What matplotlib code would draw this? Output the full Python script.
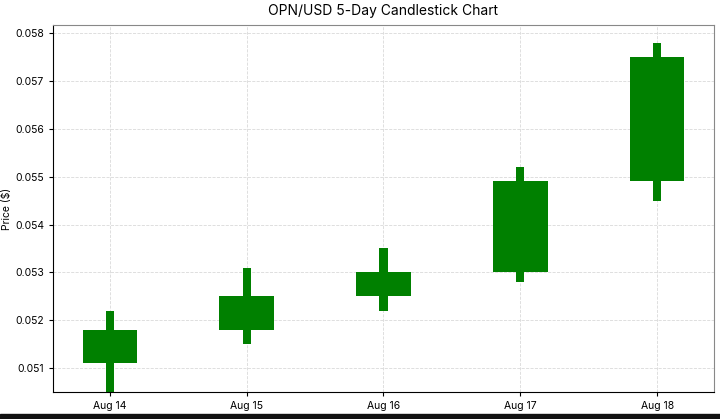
import matplotlib
matplotlib.use("Agg")
import matplotlib.pyplot as plt
from matplotlib.patches import Rectangle

plt.rcParams['font.family'] = ['Inter', 'DejaVu Sans']

dates = ["Aug 14", "Aug 15", "Aug 16", "Aug 17", "Aug 18"]
opens = [0.0511, 0.0518, 0.0525, 0.0530, 0.0549]
closes = [0.0518, 0.0525, 0.0530, 0.0549, 0.0575]
highs = [0.0522, 0.0531, 0.0535, 0.0552, 0.0578]
lows = [0.0505, 0.0515, 0.0522, 0.0528, 0.0545]

fig = plt.figure(figsize=(7.2, 4.19), dpi=100)
ax = fig.add_axes([53/720, 1 - 392/419, (714-53)/720, (392-25)/419])

x = list(range(len(dates)))
ax.bar(x, [h - l for h, l in zip(highs, lows)], bottom=lows, width=0.06, color='green', zorder=2)
ax.bar(x, [abs(c - o) for o, c in zip(opens, closes)], bottom=[min(o, c) for o, c in zip(opens, closes)],
       width=0.4, color='green', zorder=2)

ax.set_xlim(-0.416, 4.416)
ax.set_ylim(0.0505, 0.05817)
ax.set_xticks(x)
ax.set_xticklabels(dates, fontsize=7.5)
yt = [0.051, 0.052, 0.053, 0.054, 0.055, 0.056, 0.057, 0.058]
ax.set_yticks(yt)
ax.set_yticklabels([f"{v:.3f}" for v in yt], fontsize=7.5)
ax.grid(True, linestyle='--', color='#d9d9d9', linewidth=0.6, zorder=0)
ax.set_axisbelow(True)
ax.set_ylabel("Price ($)", fontsize=7.5, labelpad=2)
ax.set_title("OPN/USD 5-Day Candlestick Chart", fontsize=10, pad=7)
ax.spines['left'].set_color('black')
ax.spines['bottom'].set_color('black')
ax.spines['top'].set_color('#888888')
ax.spines['right'].set_color('#888888')
ax.tick_params(length=3, width=0.8)

fig.patches.append(Rectangle((0, 0), 1, 5/419, transform=fig.transFigure, color='#111111', zorder=5))

fig.savefig("out.png", dpi=100)
